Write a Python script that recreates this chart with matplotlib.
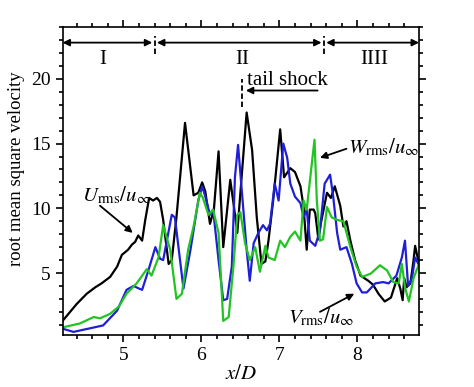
import matplotlib
matplotlib.use("Agg")
import matplotlib.pyplot as plt
from matplotlib.ticker import MultipleLocator

plt.rcParams['font.family'] = ['Liberation Serif', 'DejaVu Serif']
plt.rcParams['mathtext.fontset'] = 'stix'

# U_rms / u_inf (black)
u_x = [4.22, 4.40, 4.53, 4.64, 4.72, 4.83, 4.92, 4.98, 5.02, 5.06, 5.11, 5.15, 5.19, 5.24,
       5.28, 5.33, 5.38, 5.43, 5.47, 5.51, 5.58, 5.62, 5.68, 5.79, 5.90, 5.96, 6.01, 6.05,
       6.11, 6.16, 6.22, 6.28, 6.37, 6.42, 6.46, 6.58, 6.65, 6.71, 6.77, 6.82, 6.86, 6.92,
       7.01, 7.06, 7.14, 7.20, 7.27, 7.31, 7.35, 7.39, 7.44, 7.46, 7.50, 7.53, 7.61, 7.66,
       7.71, 7.78, 7.82, 7.86, 7.91, 7.97, 8.04, 8.14, 8.20, 8.27, 8.35, 8.43, 8.51, 8.55,
       8.58, 8.60, 8.63, 8.68, 8.72, 8.74, 8.79]
u_y = [1.3, 2.6, 3.4, 3.9, 4.2, 4.7, 5.5, 6.4, 6.6, 6.8, 7.2, 7.4, 7.9, 7.5,
       9.1, 10.8, 10.6, 10.8, 10.5, 9.1, 5.7, 6.0, 9.3, 16.6, 11.0, 11.2, 12.0, 11.3,
       8.8, 9.9, 14.4, 7.0, 12.2, 10.0, 8.1, 17.4, 14.5, 9.3, 5.7, 5.9, 7.5, 10.6,
       16.1, 12.4, 13.1, 12.8, 11.7, 10.1, 6.8, 9.9, 9.9, 9.6, 7.6, 8.8, 11.2, 10.8,
       11.7, 10.2, 8.6, 9.0, 7.5, 6.0, 4.8, 4.4, 4.1, 3.4, 2.8, 3.1, 4.6, 3.8,
       2.9, 4.6, 3.9, 4.2, 6.0, 7.1, 5.7]

# V_rms / u_inf (blue)
v_x = [4.22, 4.36, 4.55, 4.74, 4.92, 5.04, 5.13, 5.20, 5.24, 5.32, 5.41, 5.47, 5.51, 5.62,
       5.66, 5.77, 5.86, 5.96, 6.01, 6.05, 6.11, 6.15, 6.22, 6.28, 6.33, 6.39, 6.43, 6.47,
       6.52, 6.58, 6.62, 6.67, 6.73, 6.79, 6.84, 6.88, 6.94, 6.99, 7.05, 7.10, 7.14, 7.20,
       7.27, 7.31, 7.35, 7.39, 7.46, 7.52, 7.58, 7.65, 7.69, 7.74, 7.78, 7.86, 7.93, 7.99,
       8.06, 8.12, 8.23, 8.33, 8.40, 8.50, 8.57, 8.61, 8.65, 8.70, 8.74, 8.79]
v_y = [0.7, 0.45, 0.7, 0.95, 2.1, 3.7, 4.0, 3.8, 3.7, 5.2, 7.0, 6.1, 6.0, 9.5,
       9.3, 3.8, 6.8, 10.6, 11.7, 10.9, 9.5, 9.9, 6.0, 2.9, 3.0, 5.5, 12.4, 14.9,
       11.2, 6.8, 4.4, 7.3, 8.1, 8.7, 8.3, 8.8, 11.9, 10.6, 15.0, 13.9, 11.9, 10.9,
       10.4, 9.3, 9.9, 7.5, 7.1, 8.3, 11.9, 12.6, 10.9, 8.1, 6.8, 7.0, 5.7, 4.2,
       3.5, 3.5, 4.2, 4.3, 4.2, 4.8, 6.2, 7.5, 4.0, 4.6, 6.2, 5.6]

# W_rms / u_inf (green)
w_x = [4.22, 4.44, 4.62, 4.70, 4.83, 4.94, 5.04, 5.17, 5.30, 5.36, 5.45, 5.51, 5.60, 5.68,
       5.75, 5.83, 5.90, 5.98, 6.02, 6.09, 6.15, 6.22, 6.28, 6.35, 6.41, 6.46, 6.50, 6.56,
       6.62, 6.69, 6.75, 6.82, 6.86, 6.94, 7.01, 7.07, 7.14, 7.20, 7.27, 7.31, 7.35, 7.45,
       7.48, 7.52, 7.56, 7.61, 7.67, 7.74, 7.82, 7.91, 7.99, 8.06, 8.17, 8.29, 8.38, 8.46,
       8.53, 8.57, 8.61, 8.66, 8.72, 8.79]
w_y = [0.8, 1.1, 1.6, 1.5, 1.85, 2.4, 3.4, 4.2, 5.3, 4.8, 6.2, 8.7, 6.8, 3.0,
       3.4, 6.8, 8.6, 11.2, 10.8, 9.5, 9.9, 8.1, 1.3, 1.6, 5.5, 9.5, 9.7, 7.3,
       6.0, 7.0, 5.1, 7.1, 6.2, 6.0, 7.5, 7.0, 7.8, 8.2, 7.5, 10.6, 9.9, 15.3,
       10.6, 7.5, 7.6, 10.1, 9.3, 9.1, 9.0, 7.0, 5.5, 4.7, 4.95, 5.6, 5.2, 4.3,
       4.2, 5.7, 3.9, 2.8, 4.6, 5.7]

# region boundaries along x/D
region_edges = [4.22, 5.40, 7.57, 8.79]
region_names = ['I', 'II', 'IIII']
region_label_x = [4.73, 6.52, 8.22]

fig = plt.figure(figsize=(4.74, 3.87), dpi=100)
ax = fig.add_axes([0.132, 0.134, 0.752, 0.796])

ax.plot(u_x, u_y, color='black', lw=1.6)
ax.plot(v_x, v_y, color='#1f1fd8', lw=1.6)
ax.plot(w_x, w_y, color='#22c422', lw=1.6)

ax.set_xlim(4.22, 8.79)
ax.set_ylim(0.2, 24)
ax.xaxis.set_major_locator(MultipleLocator(1))
ax.xaxis.set_minor_locator(MultipleLocator(0.2))
ax.yaxis.set_major_locator(MultipleLocator(5))
ax.yaxis.set_minor_locator(MultipleLocator(1))
ax.tick_params(which='both', direction='out', top=True, right=True, labelsize=14, width=1.2)
ax.tick_params(which='major', length=5)
ax.tick_params(which='minor', length=3)
for s in ax.spines.values():
    s.set_linewidth(1.2)

ax.set_xlabel('$x/D$', fontsize=15, labelpad=1)
ax.set_ylabel('root mean square velocity', fontsize=13.5)
ax.yaxis.set_label_coords(-0.105, 0.54)

# region arrows
arr = dict(arrowstyle='<|-|>', color='black', lw=1.3, mutation_scale=10, shrinkA=0, shrinkB=0)
for i in range(3):
    x0 = region_edges[i] + (0.03 if i > 0 else 0)
    x1 = region_edges[i + 1] - (0.03 if i < 2 else 0)
    ax.annotate('', xy=(x1, 22.8), xytext=(x0, 22.8), arrowprops=arr, annotation_clip=False)
    ax.text(region_label_x[i], 21.5, region_names[i], fontsize=15, ha='center', va='center')
for xe in region_edges[1:3]:
    ax.plot([xe, xe], [21.9, 23.3], color='black', lw=1.3, ls=(0, (3, 1.5)))

# tail shock
ax.plot([6.52, 6.52], [17.8, 20.0], color='black', lw=1.3, ls=(0, (3, 1.5)))
ax.text(6.59, 19.9, 'tail shock', fontsize=15, ha='left', va='center')
ax.annotate('', xy=(6.57, 19.1), xytext=(7.49, 19.1),
            arrowprops=dict(arrowstyle='-|>', color='black', lw=1.3, mutation_scale=10,
                            shrinkA=0, shrinkB=0))

# curve labels
lab_arr = dict(arrowstyle='-|>', color='black', lw=1.3, mutation_scale=10, shrinkA=0, shrinkB=0)
ax.text(4.47, 11.0, r'$U_{\rm rms}/u_\infty$', fontsize=15, ha='left', va='center')
ax.annotate('', xy=(5.12, 8.1), xytext=(4.70, 10.2), arrowprops=lab_arr)
ax.text(7.88, 14.7, r'$W_{\rm rms}/u_\infty$', fontsize=15, ha='left', va='center')
ax.annotate('', xy=(7.52, 13.9), xytext=(7.86, 14.6), arrowprops=lab_arr)
ax.text(7.11, 1.6, r'$V_{\rm rms}/u_\infty$', fontsize=15, ha='left', va='center')
ax.annotate('', xy=(7.96, 3.4), xytext=(7.52, 2.0), arrowprops=lab_arr)

fig.savefig('out.png', dpi=100)
